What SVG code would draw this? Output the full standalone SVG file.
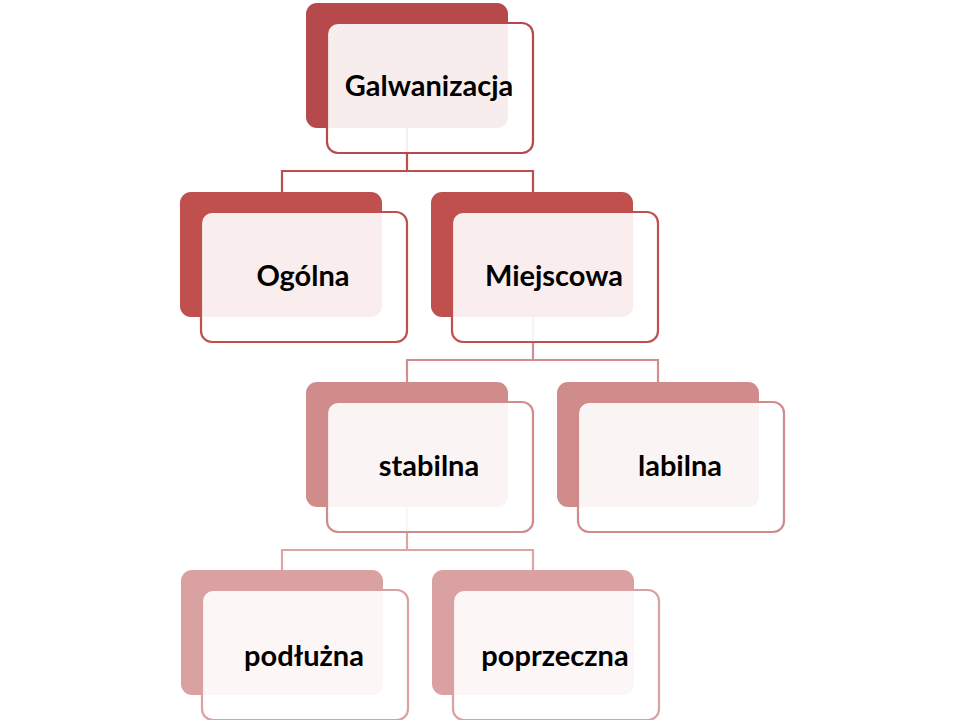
<svg xmlns="http://www.w3.org/2000/svg" width="960" height="720" viewBox="0 0 960 720">
<style>
.bg{fill:#ffffff}
.back{stroke:none}
.front{fill:#ffffff;fill-opacity:0.9;stroke-width:2.2}
.l1 .back{fill:#b6494b}.l1 .front{stroke:#b6494b}
.l2 .back{fill:#c0504d}.l2 .front{stroke:#c0504d}
.l3 .back{fill:#d08b8b}.l3 .front{stroke:#d08b8b}
.l4 .back{fill:#d9a1a1}.l4 .front{stroke:#d9a1a1}
.lbl{font-family:Lato,"Open Sans","Liberation Sans",sans-serif;font-size:29px;font-weight:bold;fill:#000;text-anchor:middle}
.c{fill:none;stroke-width:2.2}
</style>
<rect class="bg" x="0" y="0" width="960" height="720"/>
<g id="connectors">
<path class="c" stroke="#bb4f50" d="M407,128 V171 M282,192 V171 H533 V192"/>
<path class="c" stroke="#d18e8e" d="M533,317 V360 M407,382 V360 H658 V382"/>
<path class="c" stroke="#dba5a5" d="M407,507 V550 M282,570 V550 H533 V570"/>
</g>
<g id="galwanizacja" class="l1">
<rect class="back" x="306" y="3" width="202" height="125" rx="11"/>
<rect class="front" x="327" y="23" width="206" height="130" rx="11"/>
<text class="lbl" x="429" y="96">Galwanizacja</text>
</g>
<g id="ogolna" class="l2">
<rect class="back" x="180" y="192" width="202" height="125" rx="11"/>
<rect class="front" x="201" y="212" width="206" height="130" rx="11"/>
<text class="lbl" x="303" y="286">Ogólna</text>
</g>
<g id="miejscowa" class="l2">
<rect class="back" x="431" y="192" width="202" height="125" rx="11"/>
<rect class="front" x="452" y="212" width="206" height="130" rx="11"/>
<text class="lbl" x="554" y="286">Miejscowa</text>
</g>
<g id="stabilna" class="l3">
<rect class="back" x="306" y="382" width="202" height="125" rx="11"/>
<rect class="front" x="327" y="402" width="206" height="130" rx="11"/>
<text class="lbl" x="429" y="476">stabilna</text>
</g>
<g id="labilna" class="l3">
<rect class="back" x="557" y="382" width="202" height="125" rx="11"/>
<rect class="front" x="578" y="402" width="206" height="130" rx="11"/>
<text class="lbl" x="680" y="476">labilna</text>
</g>
<g id="podluzna" class="l4">
<rect class="back" x="181" y="570" width="202" height="125" rx="11"/>
<rect class="front" x="202" y="590" width="206" height="130" rx="11"/>
<text class="lbl" x="304" y="666">podłużna</text>
</g>
<g id="poprzeczna" class="l4">
<rect class="back" x="432" y="570" width="202" height="125" rx="11"/>
<rect class="front" x="453" y="590" width="206" height="130" rx="11"/>
<text class="lbl" x="555" y="666">poprzeczna</text>
</g>
</svg>
